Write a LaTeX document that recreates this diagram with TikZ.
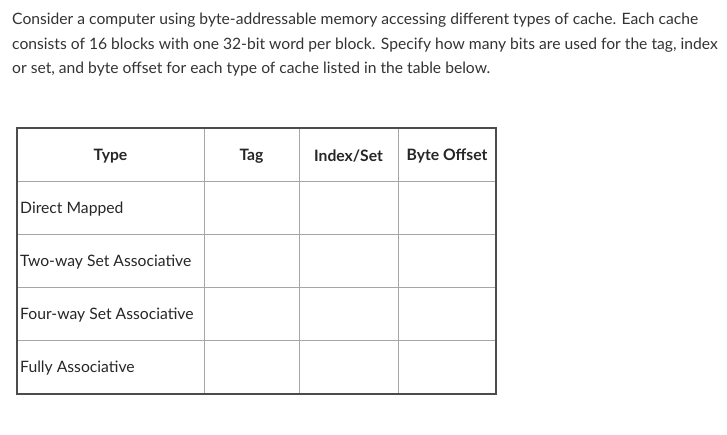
\documentclass[tikz,border=0pt]{standalone}
\usepackage{fontspec}
\setmainfont{Lato}
\begin{document}
\begin{tikzpicture}[x=1pt,y=-1pt,
  para/.style={anchor=west,inner sep=0pt,font=\fontsize{15.65}{19}\selectfont,text=black!80},
  cell/.style={inner sep=0pt,font=\fontsize{15.7}{19}\selectfont,text=black!85},
  head/.style={cell,font=\fontsize{15.7}{19}\selectfont\bfseries}]
\useasboundingbox (0,0) rectangle (727,434);
\node[para] (l1) at (12,20) {Consider a computer using byte-addressable memory accessing different types of cache. Each cache};
\node[para] (l2) at (12,45) {consists of 16 blocks with one 32-bit word per block. Specify how many bits are used for the tag, index};
\node[para] (l3) at (12,69) {or set, and byte offset for each type of cache listed in the table below.};
% grid
\foreach \x in {204,299,398} \draw[gray!70,line width=1pt] (\x,128) -- (\x,394);
\foreach \y in {181,234,287,340} \draw[gray!70,line width=1pt] (17,\y) -- (496,\y);
\draw[black!70,line width=1.6pt] (17,128) rectangle (496,394);
\node[head] (h1) at (110.5,156) {Type};
\node[head] (h2) at (251.5,156) {Tag};
\node[head] (h3) at (348.5,156) {Index/Set};
\node[head] (h4) at (447,156) {Byte Offset};
\node[cell,anchor=west] (r1) at (20,209) {Direct Mapped};
\node[cell,anchor=west] (r2) at (20,262) {Two-way Set Associative};
\node[cell,anchor=west] (r3) at (20,315) {Four-way Set Associative};
\node[cell,anchor=west] (r4) at (20,368) {Fully Associative};
\end{tikzpicture}
\end{document}
